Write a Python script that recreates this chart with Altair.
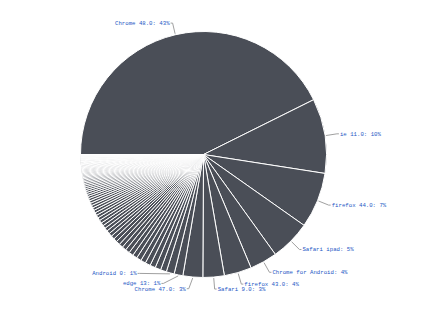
import altair as alt
import pandas as pd

# ---- data ----
label_names = ["Chrome 48.0", "ie 11.0", "firefox 44.0", "Safari ipad",
               "Chrome for Android", "firefox 43.0", "Safari 9.0",
               "Chrome 47.0", "edge 13", "Android 0"]
label_values = [42.6, 9.8, 7.3, 5.3, 3.6, 3.6, 2.8, 2.6, 1.15, 1.05]

tail_values = [0.78, 0.75, 0.72, 0.69, 0.66, 0.63, 0.61, 0.59, 0.57, 0.55,
               0.53, 0.51, 0.49, 0.47, 0.45, 0.44, 0.43, 0.42, 0.41, 0.40,
               0.39, 0.38, 0.37, 0.36, 0.35, 0.34, 0.33, 0.32, 0.31, 0.30,
               0.28, 0.27, 0.26, 0.25, 0.24, 0.23, 0.22, 0.21, 0.20, 0.19,
               0.18, 0.17, 0.16, 0.155, 0.15, 0.14, 0.135, 0.13, 0.12, 0.115,
               0.11, 0.105, 0.10, 0.095, 0.09, 0.085, 0.08, 0.075, 0.07, 0.065,
               0.06, 0.058, 0.055, 0.052, 0.05, 0.048, 0.045, 0.042, 0.04, 0.038,
               0.035, 0.033, 0.03, 0.028, 0.026, 0.024, 0.022, 0.02, 0.018, 0.016,
               0.015, 0.014, 0.013, 0.012, 0.011, 0.01, 0.01, 0.01, 0.01, 0.01]
tail_names = ["other %d" % (k + 1) for k in range(len(tail_values))]

names = label_names + tail_names
values = label_values + tail_values
df = pd.DataFrame({
    "name": names,
    "value": values,
    "i": list(range(len(names))),
})
n_labels = len(label_names)

# ---- layout constants ----
CX, CY, R = 203.5, 154.5, 123
R_RIM, R_LAB = 124, 135
GAP = 0.192  # minimum angular gap between labels (radians, ~11 deg)
FILL = "#4a4e57"
TEXT = "#2457c5"
FONT = "Liberation Mono"

base = (
    alt.Chart(df)
    .transform_joinaggregate(total="sum(value)")
    .transform_window(cum="sum(value)", sort=[alt.SortField("i")], frame=[None, 0])
    .transform_calculate(
        a0="-PI/2 + 2*PI*(datum.cum - datum.value)/datum.total",
        a1="-PI/2 + 2*PI*datum.cum/datum.total",
    )
    .transform_calculate(
        mid="(datum.a0 + datum.a1)/2",
        pct="round(100*datum.value/datum.total)",
    )
)

arcs = base.mark_arc(radius=R, fill=FILL, stroke="white", strokeWidth=1).encode(
    theta=alt.Theta("a0:Q", scale=None),
    theta2="a1:Q",
    x=alt.value(CX),
    y=alt.value(CY),
)

lab = (
    base.transform_filter(f"datum.i < {n_labels}")
    .transform_calculate(b=f"datum.mid - datum.i*{GAP}")
    .transform_window(runmax="max(b)", sort=[alt.SortField("i")], frame=[None, 0])
    .transform_calculate(L=f"datum.i*{GAP} + datum.runmax")
    .transform_calculate(
        side="sin(datum.L) >= 0 ? 1 : -1",
        x1=f"{CX} + {R_RIM}*sin(datum.mid)",
        y1=f"{CY} - {R_RIM}*cos(datum.mid)",
        xe=f"{CX} + {R_LAB}*sin(datum.L)",
        ye=f"{CY} - {R_LAB}*cos(datum.L)",
        text="datum.name + ': ' + datum.pct + '%'",
    )
    .transform_calculate(
        xh="datum.xe + datum.side*2",
        tx="datum.xe + datum.side*3",
    )
)

rule1 = lab.mark_rule(color="#a0a0a0", strokeWidth=1).encode(
    x=alt.X("x1:Q", scale=None, axis=None),
    y=alt.Y("y1:Q", scale=None, axis=None),
    x2="xe:Q",
    y2="ye:Q",
)
rule2 = lab.mark_rule(color="#a0a0a0", strokeWidth=1).encode(
    x=alt.X("xe:Q", scale=None, axis=None),
    y=alt.Y("ye:Q", scale=None, axis=None),
    x2="xh:Q",
    y2="ye:Q",
)

text_right = lab.transform_filter("datum.side > 0").mark_text(
    align="left", baseline="middle", font=FONT, fontSize=5.7, color=TEXT
).encode(
    x=alt.X("tx:Q", scale=None, axis=None),
    y=alt.Y("ye:Q", scale=None, axis=None),
    text="text:N",
)
text_left = lab.transform_filter("datum.side < 0").mark_text(
    align="right", baseline="middle", font=FONT, fontSize=5.7, color=TEXT
).encode(
    x=alt.X("tx:Q", scale=None, axis=None),
    y=alt.Y("ye:Q", scale=None, axis=None),
    text="text:N",
)

chart = (
    alt.layer(arcs, rule1, rule2, text_right, text_left)
    .properties(width=421, height=320, autosize=alt.AutoSizeParams(type="none"), padding=0)
    .configure_view(stroke=None)
)

chart.save("out.html", embed_options={"renderer": "svg", "actions": False})
